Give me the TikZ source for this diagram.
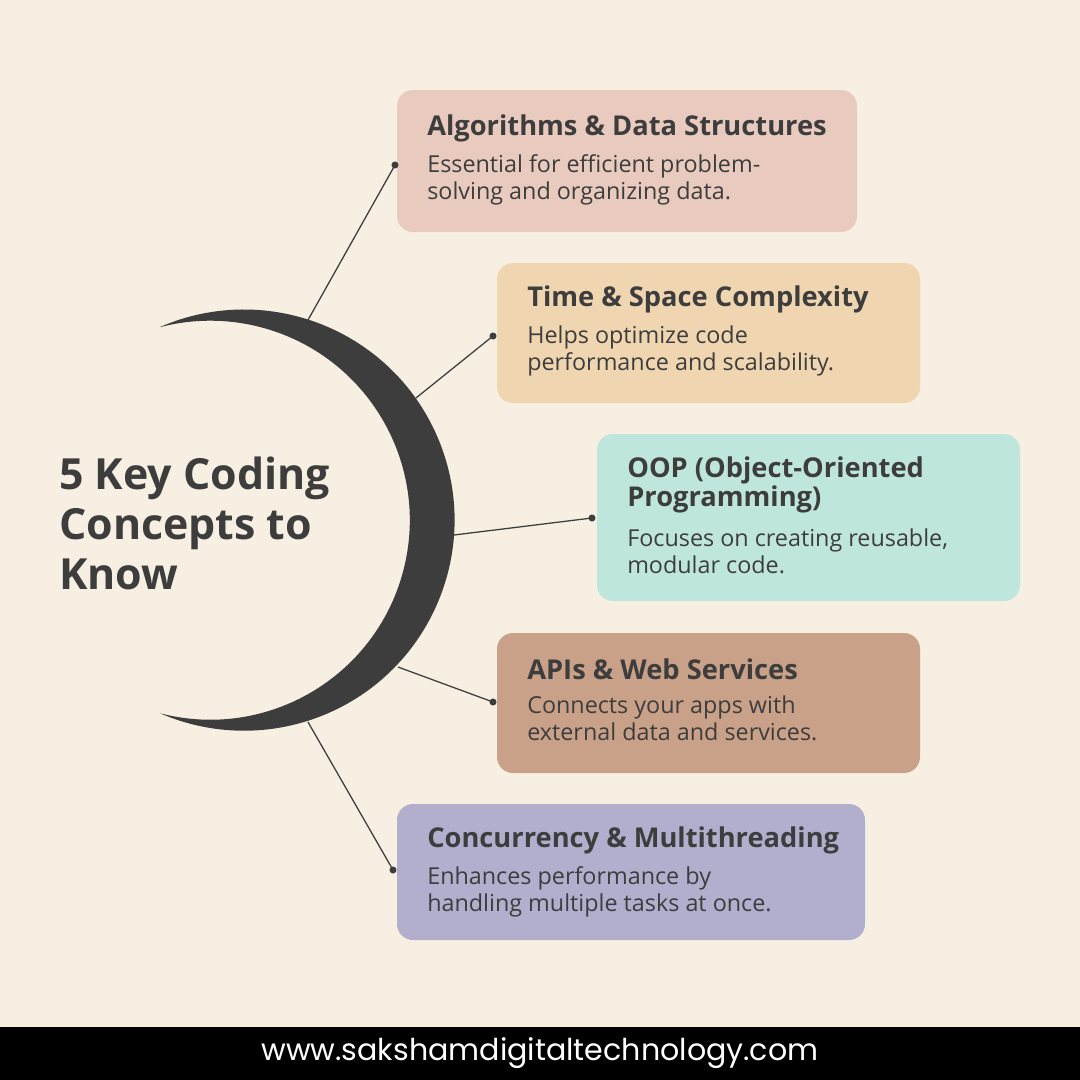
\documentclass[tikz,border=0pt]{standalone}
\usepackage{fontspec}
\setmainfont{Open Sans}
\newfontfamily\footfont{Poppins}
\usetikzlibrary{positioning}
\definecolor{bgcream}{HTML}{F7EFE2}
\definecolor{ink}{HTML}{3D3D3D}
\definecolor{boxA}{HTML}{E8CBBE}
\definecolor{boxB}{HTML}{F0D6B0}
\definecolor{boxC}{HTML}{BFE6DC}
\definecolor{boxD}{HTML}{C9A088}
\definecolor{boxE}{HTML}{B1AFCD}
\begin{document}
\begin{tikzpicture}[
            x = 0.025cm, y = -0.025cm, % one pixel of the picture
            conceptbox/.style = {rounded corners = 0.4cm},
            headtext/.style = {anchor = west, inner sep = 0pt, text = ink,
                font = \fontsize{19.4}{20.5}\selectfont\bfseries},
            desctext/.style = {anchor = north west, inner sep = 0pt, text = ink, align = left,
                font = \fontsize{16.6}{19.8}\selectfont},
            link/.style = {draw = ink, line width = 0.9pt},
            pin/.style = {circle, fill = ink, inner sep = 0pt, minimum size = 5pt}
        ]

        \fill[bgcream] (0,0) rectangle (1080,1080);
        \fill[black] (0,1027) rectangle (1080,1080);
        \node[text = white, font = \footfont\fontsize{21.4}{22}\selectfont] (web) at (540,1053) {www.sakshamdigitaltechnology.com};

        % crescent
        \fill[ink] (160,327) arc[start angle = -113.5, end angle = 113.5, radius = 210.6]
            arc[start angle = 104.6, end angle = -104.6, radius = 199.5] -- cycle;
        \node[anchor = west, align = left, text = ink, inner sep = 0pt,
            font = \fontsize{30.5}{35.5}\selectfont\bfseries] (title) at (59,523)
            {5 Key Coding\\Concepts to\\Know};

        % boxes
        \fill[boxA, conceptbox] (397,90) rectangle (857,232);
        \fill[boxB, conceptbox] (497,263) rectangle (920,403);
        \fill[boxC, conceptbox] (597,434) rectangle (1020,601);
        \fill[boxD, conceptbox] (497,633) rectangle (920,773);
        \fill[boxE, conceptbox] (397,804) rectangle (865,940);

        \node[headtext] (hA) at (427,128) {Algorithms \& Data Structures};
        \node[desctext] (dA) at (427,154) {Essential for efficient problem-\\solving and organizing data.};
        \node[headtext] (hB) at (527,299) {Time \& Space Complexity};
        \node[desctext] (dB) at (527,325) {Helps optimize code\\performance and scalability.};
        \node[headtext, align = left] (hC) at (627,485) {OOP (Object-Oriented\\Programming)};
        \node[desctext] (dC) at (627,528) {Focuses on creating reusable,\\modular code.};
        \node[headtext] (hD) at (527,669) {APIs \& Web Services};
        \node[desctext] (dD) at (527,695) {Connects your apps with\\external data and services.};
        \node[headtext] (hE) at (427,840) {Concurrency \& Multithreading};
        \node[desctext] (dE) at (427,866) {Enhances performance by\\handling multiple tasks at once.};

        % connectors
        \node[pin] (pA) at (395,165) {};
        \node[pin] (pB) at (493,336) {};
        \node[pin] (pC) at (592,518) {};
        \node[pin] (pD) at (493,702) {};
        \node[pin] (pE) at (393,870) {};
        \coordinate (cA) at (308,320);
        \coordinate (cB) at (416,398);
        \coordinate (cC) at (454,535);
        \coordinate (cD) at (398,667);
        \coordinate (cE) at (308,722);
        \foreach \k in {A,B,C,D,E}
            \draw[link] (c\k) -- (p\k.center);
    \end{tikzpicture}
\end{document}
